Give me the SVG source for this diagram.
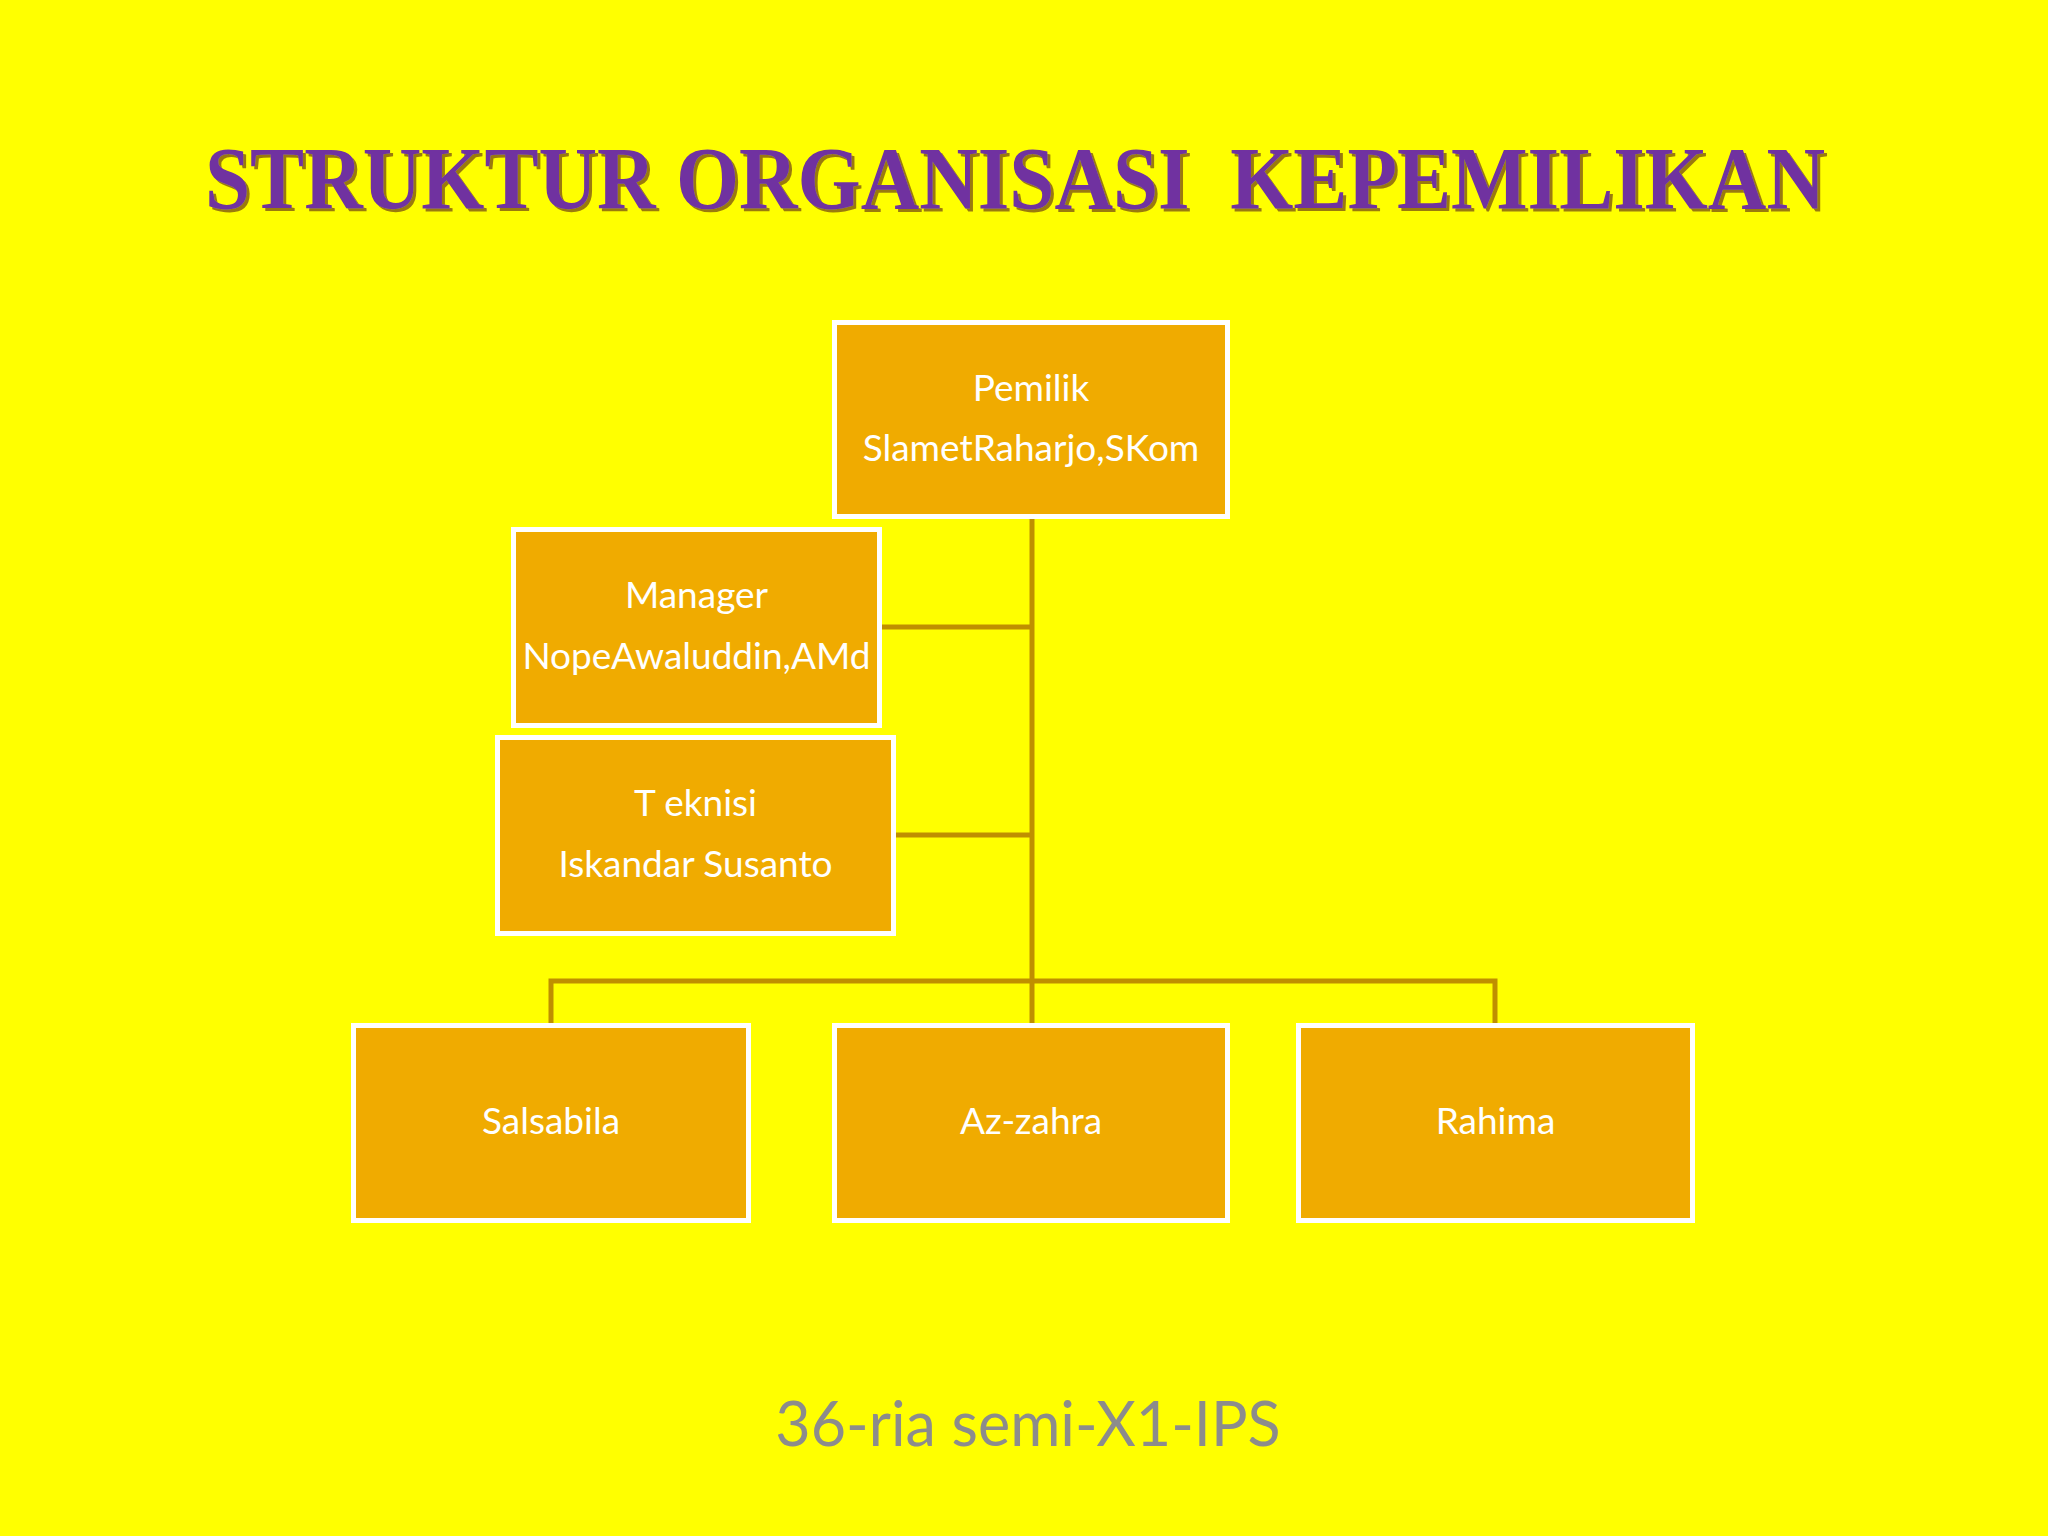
<svg xmlns="http://www.w3.org/2000/svg" width="2048" height="1536" viewBox="0 0 2048 1536">
  <defs>
    <filter id="shadow" x="-5%" y="-20%" width="110%" height="150%">
      <feDropShadow dx="3" dy="3" stdDeviation="0" flood-color="#9A7A10" flood-opacity="1"/>
    </filter>
  </defs>
  <style>
    .box { fill: #F0AB00; stroke: #FFFFFF; stroke-width: 5; }
    .lbl { font-family: Lato, "Open Sans", "Liberation Sans", sans-serif; font-size: 37px; fill: #FFFFFF; text-anchor: middle; }
    .conn { fill: none; stroke: #BF8F00; stroke-width: 5; }
  </style>
  <rect x="0" y="0" width="2048" height="1536" fill="#FFFF00"/>

  <text id="title" x="1015" y="208" text-anchor="middle" font-family="'Liberation Serif', serif" font-weight="bold" font-size="88" fill="#7030A0" textLength="1620" lengthAdjust="spacingAndGlyphs" filter="url(#shadow)" xml:space="preserve">STRUKTUR ORGANISASI  KEPEMILIKAN</text>

  <g id="connectors">
    <path class="conn" d="M1032 519 V1023"/>
    <path class="conn" d="M882 627 H1032"/>
    <path class="conn" d="M896 835 H1032"/>
    <path class="conn" d="M551 1023 V981 H1495 V1023"/>
  </g>

  <g id="pemilik">
    <rect class="box" x="834.5" y="322.5" width="393" height="194"/>
    <text class="lbl" x="1031" y="401">Pemilik</text>
    <text class="lbl" x="1031" y="461">SlametRaharjo,SKom</text>
  </g>
  <g id="manager">
    <rect class="box" x="513.5" y="529.5" width="366" height="196"/>
    <text class="lbl" x="696.5" y="608">Manager</text>
    <text class="lbl" x="696.5" y="669">NopeAwaluddin,AMd</text>
  </g>
  <g id="teknisi">
    <rect class="box" x="497.5" y="737.5" width="396" height="196"/>
    <text class="lbl" x="695.5" y="816" xml:space="preserve">T eknisi</text>
    <text class="lbl" x="695.5" y="877">Iskandar Susanto</text>
  </g>
  <g id="salsabila">
    <rect class="box" x="353.5" y="1025.5" width="395" height="195"/>
    <text class="lbl" x="551" y="1134">Salsabila</text>
  </g>
  <g id="azzahra">
    <rect class="box" x="834.5" y="1025.5" width="393" height="195"/>
    <text class="lbl" x="1031" y="1134">Az-zahra</text>
  </g>
  <g id="rahima">
    <rect class="box" x="1298.5" y="1025.5" width="394" height="195"/>
    <text class="lbl" x="1495.5" y="1134">Rahima</text>
  </g>

  <text id="footer" x="1028" y="1446" text-anchor="middle" font-family="Lato, 'Open Sans', 'Liberation Sans', sans-serif" font-size="61" fill="#8C8C8C">36-ria semi-X1-IPS</text>
</svg>
